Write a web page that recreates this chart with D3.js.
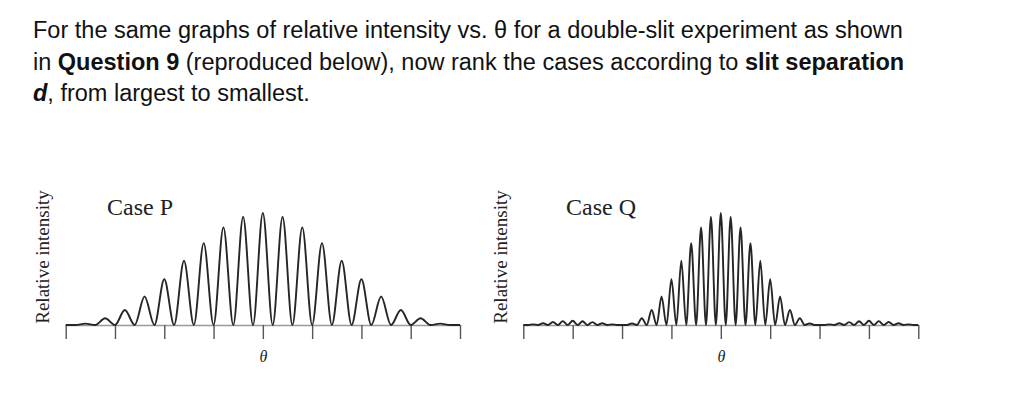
<!DOCTYPE html>
<html>
<head>
<meta charset="utf-8">
<script src="https://cdn.jsdelivr.net/npm/d3@7"></script>
<style>
  body { margin: 0; background: #fff; }
  svg { display: block; }
</style>
</head>
<body>
<script>
const w = 1024;
const h = 399;

// question text, split into runs (bold / italic-bold / plain)
const line1 = [["For the same graphs of relative intensity vs. θ for a double-slit experiment as shown", ""]];
const line2 = [["in ", ""], ["Question 9", "b"], [" (reproduced below), now rank the cases according to ", ""], ["slit separation", "b"]];
const line3 = [["d", "bi"], [", from largest to smallest.", ""]];

// theta ticks (same for both graphs)
const tickVals = [-4, -3, -2, -1, 0, 1, 2, 3, 4];

// right half of each profile [theta, relative intensity], peaks and minima
const caseP = [[0, 1], [0.2, 0], [0.4, 0.964], [0.6, 0], [0.8, 0.872], [1.0, 0], [1.2, 0.731], [1.4, 0],
  [1.6, 0.573], [1.8, 0], [2.0, 0.409], [2.2, 0], [2.4, 0.254], [2.6, 0], [2.8, 0.134], [3.0, 0],
  [3.2, 0.06], [3.4, 0], [3.6, 0.012], [3.8, 0], [4.0, 0]];
const caseQ = [[0, 1], [0.1, 0], [0.2, 0.964], [0.3, 0], [0.4, 0.872], [0.5, 0], [0.6, 0.731], [0.7, 0],
  [0.8, 0.573], [0.9, 0], [1.0, 0.409], [1.1, 0], [1.2, 0.254], [1.3, 0], [1.4, 0.134], [1.5, 0],
  [1.6, 0.06], [1.7, 0], [1.8, 0.014], [1.9, 0], [2.0, 0], [2.1, 0], [2.2, 0.006], [2.3, 0],
  [2.4, 0.015], [2.5, 0], [2.6, 0.026], [2.7, 0], [2.8, 0.034], [2.9, 0], [3.0, 0.038], [3.1, 0],
  [3.2, 0.035], [3.3, 0], [3.4, 0.027], [3.5, 0], [3.6, 0.016], [3.7, 0], [3.8, 0.006], [3.9, 0], [4.0, 0]];

const svg = d3.select("body").append("svg").attr("width", w).attr("height", h);

// * QUESTION TEXT
const lines = [line1, line2, line3];
const baselines = [38, 69.5, 101];
lines.forEach((runs, i) => {
  const t = svg.append("text")
    .attr("x", 33)
    .attr("y", baselines[i])
    .attr("font-family", "Liberation Sans, Arial, sans-serif")
    .attr("font-size", 23.5)
    .attr("fill", "#111");
  runs.forEach(([s, style]) => {
    t.append("tspan")
      .attr("font-weight", style.includes("b") ? "bold" : "normal")
      .attr("font-style", style.includes("i") ? "italic" : "normal")
      .text(s);
  });
});

// * GRAPHS
const yScale = d3.scaleLinear().domain([0, 1]).range([325, 213]);

function drawCase(profile, label, x0, x1, labelX, titleX) {
  const xScale = d3.scaleLinear().domain([-4, 4]).range([x0, x1]);
  const full = profile.slice(1).map((d) => [-d[0], d[1]]).reverse().concat(profile);

  const xAxis = d3.axisBottom(xScale)
    .tickValues(tickVals)
    .tickSize(14)
    .tickSizeOuter(0)
    .tickPadding(12)
    .tickFormat((d) => (d === 0 ? "θ" : ""));
  const g = svg.append("g")
    .attr("transform", "translate(0," + yScale(0) + ")")
    .call(xAxis);
  g.select(".domain").attr("stroke", "#9a9a9a").attr("stroke-width", 1.5);
  g.selectAll(".tick line").attr("stroke", "#555").attr("stroke-width", 1.4);
  g.selectAll(".tick text")
    .attr("fill", "#222")
    .attr("font-family", "Liberation Serif, Times New Roman, serif")
    .attr("font-style", "italic")
    .attr("font-size", 16);

  const line = d3.line()
    .x((d) => xScale(d[0]))
    .y((d) => yScale(d[1]))
    .curve(d3.curveMonotoneX);
  svg.append("path")
    .datum(full)
    .attr("d", line)
    .attr("fill", "none")
    .attr("stroke", "#262626")
    .attr("stroke-width", 1.9);

  svg.append("text")
    .attr("transform", "translate(" + labelX + ",257) rotate(-90)")
    .attr("text-anchor", "middle")
    .attr("font-family", "Liberation Serif, Times New Roman, serif")
    .attr("font-size", 19)
    .attr("fill", "#222")
    .text("Relative intensity");

  svg.append("text")
    .attr("x", titleX)
    .attr("y", 215)
    .attr("font-family", "Liberation Serif, Times New Roman, serif")
    .attr("font-size", 24)
    .attr("fill", "#222")
    .text(label);
}

drawCase(caseP, "Case P", 65.7, 460, 49, 107);
drawCase(caseQ, "Case Q", 523.3, 918.3, 507, 566);
</script>
</body>
</html>
